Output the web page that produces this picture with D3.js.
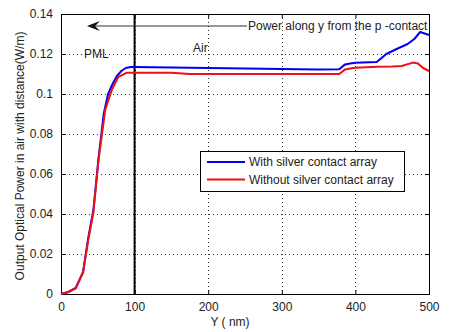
<!DOCTYPE html>
<html>
<head>
<meta charset="utf-8">
<script src="https://cdn.jsdelivr.net/npm/d3@7"></script>
<style>
  html, body { margin: 0; padding: 0; background: #fff; }
  svg { display: block; font-family: "Liberation Sans", Arial, sans-serif; }
</style>
</head>
<body>
<svg id="chart" width="474" height="332"></svg>
<script>
// Power profile along y, with and without the silver contact array
const withY = [0, 10, 20, 30, 37, 44, 51, 58, 64, 70, 76, 82, 88, 95, 100, 150, 200, 250, 300, 350, 378, 386, 393, 400, 429, 442, 456, 471, 480, 488, 492, 500];
const withP = [0, 0.001, 0.003, 0.011, 0.028, 0.042, 0.068, 0.090, 0.100, 0.105, 0.109, 0.1115, 0.113, 0.1135, 0.1135, 0.1133, 0.113, 0.1127, 0.1125, 0.1122, 0.1124, 0.1148, 0.1153, 0.1156, 0.116, 0.120, 0.1225, 0.125, 0.1275, 0.131, 0.1305, 0.1295];

const withoutY = [0, 10, 20, 30, 37, 44, 51, 60, 69, 78, 89, 100, 150, 175, 200, 250, 300, 350, 378, 386, 393, 400, 430, 450, 463, 478, 485, 492, 500];
const withoutP = [0, 0.001, 0.0028, 0.0108, 0.027, 0.0406, 0.067, 0.092, 0.102, 0.1086, 0.1106, 0.1106, 0.1106, 0.110, 0.110, 0.110, 0.110, 0.110, 0.110, 0.1123, 0.1128, 0.1131, 0.1136, 0.1137, 0.114, 0.1157, 0.1152, 0.113, 0.1115];

const xTicks = [0, 100, 200, 300, 400, 500];
const yTicks = [0, 0.02, 0.04, 0.06, 0.08, 0.1, 0.12, 0.14];
const seriesNames = ["With silver contact array", "Without silver contact array"];
const seriesColors = ["#0000ee", "#ee1111"];

const svg = d3.select("#chart");
const m = { left: 61, right: 429, top: 14, bottom: 294 };

const x = d3.scaleLinear().domain([0, 500]).range([m.left, m.right]);
const y = d3.scaleLinear().domain([0, 0.14]).range([m.bottom, m.top]);

// grid
const grid = svg.append("g").attr("stroke", "#333").attr("stroke-width", 1).attr("stroke-dasharray", "1,3");
grid.selectAll("line.v").data(xTicks.slice(1, -1)).join("line")
  .attr("x1", d => Math.round(x(d)) + 0.5).attr("x2", d => Math.round(x(d)) + 0.5)
  .attr("y1", m.top).attr("y2", m.bottom);
grid.selectAll("line.h").data(yTicks.slice(1, -1)).join("line")
  .attr("y1", d => Math.round(y(d)) + 0.5).attr("y2", d => Math.round(y(d)) + 0.5)
  .attr("x1", m.left).attr("x2", m.right);

// axes: labels on bottom/left, inward ticks on all four sides
const fmtY = d => d === 0 ? "0" : String(+d.toFixed(2));
const xAxis = svg.append("g").attr("transform", `translate(0,${m.bottom})`)
  .call(d3.axisBottom(x).tickValues(xTicks).tickSize(4).tickPadding(4));
const yAxis = svg.append("g").attr("transform", `translate(${m.left},0)`)
  .call(d3.axisLeft(y).tickValues(yTicks).tickFormat(fmtY).tickSize(4).tickPadding(4));
const xTop = svg.append("g").attr("transform", `translate(0,${m.top})`)
  .call(d3.axisTop(x).tickValues(xTicks).tickFormat("").tickSize(-4));
const yRight = svg.append("g").attr("transform", `translate(${m.right},0)`)
  .call(d3.axisRight(y).tickValues(yTicks).tickFormat("").tickSize(-4));
[xAxis, yAxis, xTop, yRight].forEach(a => {
  a.select(".domain").remove();
  a.selectAll(".tick line").attr("stroke", "#000");
  a.selectAll("text").attr("font-size", 12).attr("fill", "#222")
    .attr("font-family", "'Liberation Sans', Arial, sans-serif");
});
xAxis.selectAll(".tick line").attr("y2", -4);
yAxis.selectAll(".tick line").attr("x2", 4);

// frame
svg.append("rect").attr("x", m.left + 0.5).attr("y", m.top + 0.5)
  .attr("width", m.right - m.left).attr("height", m.bottom - m.top)
  .attr("fill", "none").attr("stroke", "#000").attr("stroke-width", 1);

// PML / air boundary
svg.append("line").attr("x1", x(100)).attr("x2", x(100)).attr("y1", m.top).attr("y2", m.bottom)
  .attr("stroke", "#000").attr("stroke-width", 2);

// curves
const line = d3.line().x(d => x(d[0])).y(d => y(d[1]));
const series = [d3.zip(withY, withP), d3.zip(withoutY, withoutP)];
svg.selectAll("path.curve").data(series).join("path")
  .attr("class", "curve")
  .attr("d", line).attr("fill", "none")
  .attr("stroke", (d, i) => seriesColors[i]).attr("stroke-width", 2)
  .attr("stroke-linejoin", "round");

// arrow annotation
const arrowY = 26;
svg.append("line").attr("x1", 90).attr("x2", 247).attr("y1", arrowY).attr("y2", arrowY)
  .attr("stroke", "#333").attr("stroke-width", 1.2);
svg.append("path").attr("d", `M87,${arrowY} L100,${arrowY - 5} L95,${arrowY} L100,${arrowY + 5} Z`)
  .attr("fill", "#111");
svg.append("text").attr("x", 248).attr("y", arrowY + 4).attr("font-size", 12).attr("fill", "#222")
  .text("Power along y from the p -contact");

svg.append("text").attr("x", 84).attr("y", 58).attr("font-size", 12).attr("fill", "#222").text("PML");
svg.append("text").attr("x", 193).attr("y", 52).attr("font-size", 12).attr("fill", "#222").text("Air");

// legend
const lg = svg.append("g");
lg.append("rect").attr("x", 200.5).attr("y", 151.5).attr("width", 204).attr("height", 40)
  .attr("fill", "#fff").attr("stroke", "#000").attr("stroke-width", 1);
seriesNames.forEach((name, i) => {
  const ly = 162 + i * 17.5;
  lg.append("line").attr("x1", 207).attr("x2", 245).attr("y1", ly).attr("y2", ly)
    .attr("stroke", seriesColors[i]).attr("stroke-width", 2);
  lg.append("text").attr("x", 249).attr("y", ly + 4).attr("font-size", 12).attr("fill", "#222").text(name);
});

// axis titles
svg.append("text").attr("x", 230).attr("y", 326).attr("text-anchor", "middle")
  .attr("font-size", 12).attr("fill", "#222").text("Y ( nm)");
svg.append("text").attr("transform", `translate(24,${(m.top + m.bottom) / 2 + 2}) rotate(-90)`)
  .attr("text-anchor", "middle").attr("font-size", 12).attr("fill", "#222")
  .text("Output Optical Power in air with distance(W/m)");
</script>
</body>
</html>
